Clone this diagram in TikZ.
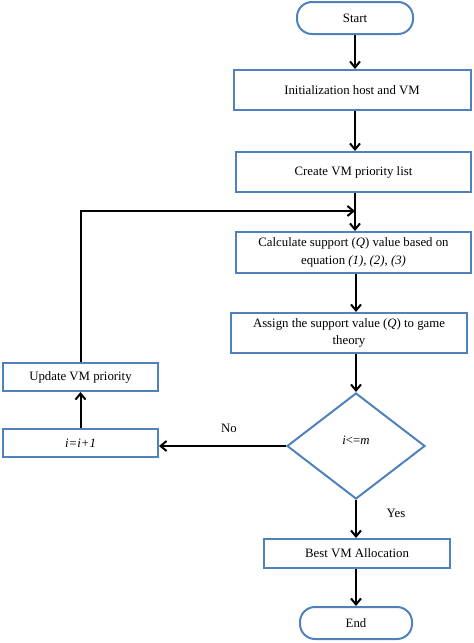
\documentclass[tikz,border=0pt]{standalone}
\usepackage{fontspec}
\setmainfont{Liberation Serif}
\usepackage[HTML]{xcolor}
\usepackage{tikz}
\usetikzlibrary{positioning, arrows.meta, shapes.geometric}
\definecolor{boxblue}{HTML}{4F81BD}

\begin{document}
\begin{tikzpicture}[x=1pt,y=-1pt,
  font=\fontsize{12.8}{17.5}\selectfont,
  box/.style={draw=boxblue,line width=2pt,rectangle,align=center,inner sep=2pt},
  term/.style={box,rounded corners=15pt,minimum width=112pt,minimum height=32pt},
  cond/.style={draw=boxblue,line width=2pt,diamond,inner sep=0pt,text depth=12pt,minimum width=138pt,minimum height=106pt},
  arr/.style={-{Straight Barb[length=6pt,width=10pt]},line width=2pt,black}]
\useasboundingbox (0,0) rectangle (474,643);
% terminals
\node[term,minimum width=116pt] (start) at (355,18) {Start};
\node[term] (stop) at (356,623) {End};
% process boxes
\node[box,minimum width=237pt,minimum height=40pt] (init) at (352,90) {Initialization host and VM};
\node[box,minimum width=235pt,minimum height=40pt] (create) at (353.5,172) {Create VM priority list};
\node[box,minimum width=235pt,minimum height=41pt] (calc) at (353.5,252.5) {Calculate support (\textit{Q}) value based on\\equation \textit{(1), (2), (3)}};
\node[box,minimum width=236pt,minimum height=40pt] (assign) at (349,333) {Assign the support value (\textit{Q}) to game\\theory};
\node[cond] (test) at (356,446) {\textit{i}<=\textit{m}};
\node[box,minimum width=186pt,minimum height=29pt] (best) at (357,553.5) {Best VM Allocation};
\node[box,minimum width=155pt,minimum height=28pt] (update) at (80.5,377) {Update VM priority};
\node[box,minimum width=155pt,minimum height=28pt] (incr) at (80.5,443) {\textit{i=i+1}};
\coordinate (merge) at (355,211);
% main flow
\draw[arr] (start.south) -- (start.south |- init.north);
\draw[arr] (init.south -| start.south) -- (start.south |- create.north);
\draw[arr] (create.south -| merge) -- (merge |- calc.north);
\draw[arr] (calc.south -| test.north) -- (test.north |- assign.north);
\draw[arr] (assign.south -| test.north) -- (test.north);
\draw[arr] (test.south) -- (test.south |- best.north);
\draw[arr] (best.south -| stop.north) -- (stop.north);
% loop back
\draw[arr] (test.west) -- (test.west -| incr.east) node[pos=0.45,above=9pt] {No};
\draw[arr] (incr.north) -- (update.south);
\draw[arr] (update.north) |- (merge);
\node at (396,513) {Yes};
\end{tikzpicture}
\end{document}
